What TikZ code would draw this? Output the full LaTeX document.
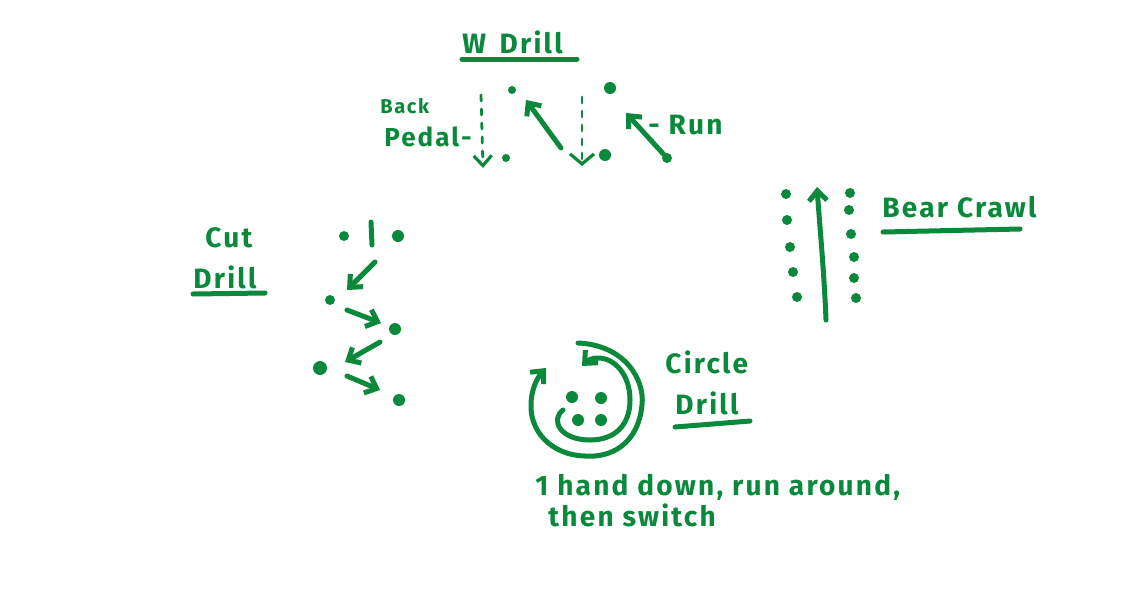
\documentclass[tikz,border=0pt]{standalone}
\usepackage{fontspec}
\setmainfont{Fira Sans}[LetterSpace=8]
\usetikzlibrary{arrows.meta}
\definecolor{marker}{RGB}{10,136,60}

\begin{document}
\begin{tikzpicture}[
x=0.5pt, y=-0.5pt,
ink/.style={
  draw=marker,
  line width=2.5pt,
  line cap=round,
  line join=round
  },
dashline/.style={
  ink,
  line width=1.4pt,
  dash pattern=on 3pt off 4pt
  },
dot/.style={
  circle,
  fill=marker,
  inner sep=0pt,
  minimum size=5pt
  },
note/.style={
  text=marker,
  inner sep=0pt,
  anchor=west,
  font=\fontsize{14}{16}\selectfont\bfseries
  },
>={Straight Barb[length=5pt,width=9pt,line width=2.5pt]}
]
\useasboundingbox[fill=white] (0,0) rectangle (1144,590);

% W drill
\node[note] (wtitle) at (462,42) {W\, Drill};
\coordinate (wline1) at (462,59);
\coordinate (wline2) at (577,59);
\draw[ink] (wline1) -- (wline2);
\node[note, font=\fontsize{10}{12}\selectfont\bfseries] (back) at (380,106) {Back};
\node[note, font=\fontsize{13}{15}\selectfont\bfseries] (pedal) at (384,137) {Pedal-};
\node[note] (run) at (648,125) {- Run};
\foreach \name/\x/\y/\s in {wa/512/90/4pt, wb/610/88/6pt, wc/506/158/4pt, wd/605/155/6pt, we/667/158/5pt}
  \node[dot, minimum size=\s] (\name) at (\x,\y) {};
\coordinate (bp1) at (481,95);
\coordinate (bp2) at (483,168);
\coordinate (bp3) at (582,97);
\coordinate (bp4) at (582,166);
\draw[dashline, -{Straight Barb[length=5pt,width=9pt,line width=1.6pt]}] (bp1) -- (bp2);
\draw[dashline, -{Straight Barb[length=5pt,width=12pt,line width=1.6pt]}] (bp3) -- (bp4);
\coordinate (r1) at (561,148);
\coordinate (r2) at (526,100);
\coordinate (r3) at (626,113);
\draw[ink, ->] (r1) -- (r2);
\draw[ink, ->] (we) -- (r3);

% cut drill
\node[note] (cut) at (205,238) {Cut};
\node[note] (cutdrill) at (193,277) {Drill};
\coordinate (cline1) at (193,294);
\coordinate (cline2) at (265,293);
\draw[ink] (cline1) -- (cline2);
\foreach \name/\x/\y/\s in {ca/344/236/5pt, cb/398/236/6pt, cc/330/300/5pt, cd/395/329/6pt, ce/320/368/7pt, cf/399/400/6pt}
  \node[dot, minimum size=\s] (\name) at (\x,\y) {};
\coordinate (cbar1) at (371,222);
\coordinate (cbar2) at (372,245);
\draw[ink] (cbar1) -- (cbar2);
\foreach \a/\b/\c/\d [count=\i] in {375/262/347/290, 347/310/381/323, 380/342/345/362, 347/376/380/390}
{
  \coordinate (cs\i) at (\a,\b);
  \coordinate (ct\i) at (\c,\d);
  \draw[ink, ->] (cs\i) -- (ct\i);
}

% bear crawl
\foreach \x/\y [count=\i] in {786/194, 787/220, 790/247, 793/272, 797/297}
  \node[dot] (bl\i) at (\x,\y) {};
\foreach \x/\y [count=\i] in {850/193, 849/210, 851/234, 854/257, 854/278, 856/298}
  \node[dot] (br\i) at (\x,\y) {};
\coordinate (bear1) at (826,320);
\coordinate (bear2) at (817,187);
\draw[ink, ->] (bear1) .. controls (824,270) and (820,230) .. (bear2);
\node[note] (bear) at (882,207) {Bear Crawl};
\coordinate (bline1) at (883,232);
\coordinate (bline2) at (1020,229);
\draw[ink] (bline1) -- (bline2);

% circle drill
\draw[ink, ->] (578,343) .. controls (625,345) and (645,380) .. (642,405)
  .. controls (638,445) and (610,458) .. (585,456)
  .. controls (550,455) and (530,430) .. (531,405)
  .. controls (531,390) and (537,378) .. (546,368);
\draw[ink, ->] (563,410) .. controls (550,420) and (560,440) .. (590,440)
  .. controls (615,440) and (630,425) .. (630,400)
  .. controls (630,375) and (615,358) .. (598,358)
  .. controls (592,358) and (588,360) .. (582,366);
\foreach \name/\x/\y in {da/572/397, db/601/398, dc/578/420, dd/601/420}
  \node[dot, minimum size=6pt] (\name) at (\x,\y) {};
\node[note] (circle) at (665,362) {Circle};
\node[note] (circdrill) at (675,403) {Drill};
\coordinate (dline1) at (675,427);
\coordinate (dline2) at (750,421);
\draw[ink] (dline1) -- (dline2);
\node[note] (rule1) at (535,487) {1 hand down, run around,};
\node[note] (rule2) at (548,515) {then switch};
\end{tikzpicture}
\end{document}
